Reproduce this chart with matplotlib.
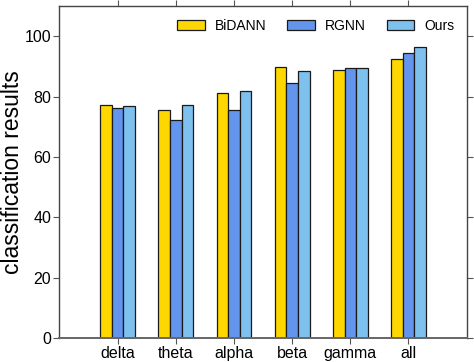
import numpy as np
import matplotlib.pyplot as plt

plt.rcParams['font.family'] = ['Liberation Sans', 'DejaVu Sans']

bands = ['delta', 'theta', 'alpha', 'beta', 'gamma', 'all']
bidann = [77.2, 75.7, 81.2, 89.9, 88.9, 92.6]
rgnn = [76.4, 72.4, 75.5, 84.5, 89.4, 94.4]
ours = [76.8, 77.1, 82.0, 88.6, 89.5, 96.4]
yticks = [0, 20, 40, 60, 80, 100]

colors = ['#FFD700', '#6495ED', '#7EC0EE']
labels = ['BiDANN', 'RGNN', 'Ours']

fig = plt.figure(figsize=(4.74, 3.62), dpi=100)
ax = fig.add_axes([0.1255, 0.066, 0.859, 0.917])

x = np.arange(1, len(bands) + 1)
w = 0.2
for i, (vals, c, lab) in enumerate(zip([bidann, rgnn, ours], colors, labels)):
    ax.bar(x + (i - 1) * w, vals, width=w, color=c, edgecolor='#1a1a1a',
           linewidth=0.9, label=lab)

ax.set_xlim(0, 7)
ax.set_ylim(0, 110)
ax.set_xticks(x)
ax.set_xticklabels(bands)
ax.set_yticks(yticks)
ax.tick_params(axis='both', direction='out', length=4, width=0.8,
               color='#555555', labelsize=11.5, pad=2,
               top=True, right=True, labeltop=False, labelright=False)
for s in ax.spines.values():
    s.set_color('#444444')
    s.set_linewidth(1.0)
ax.spines['bottom'].set_color('#666666')
ax.spines['bottom'].set_linewidth(1.4)

ax.set_ylabel('classification results', fontsize=16.5)
ax.yaxis.set_label_coords(-0.088, 0.5)

ax.legend(loc='upper right', ncol=3, frameon=False, fontsize=10,
          handlelength=2.0, handleheight=0.8, columnspacing=1.5,
          handletextpad=0.7, borderaxespad=0.5, borderpad=0.4)

fig.savefig('out.png', dpi=100)
